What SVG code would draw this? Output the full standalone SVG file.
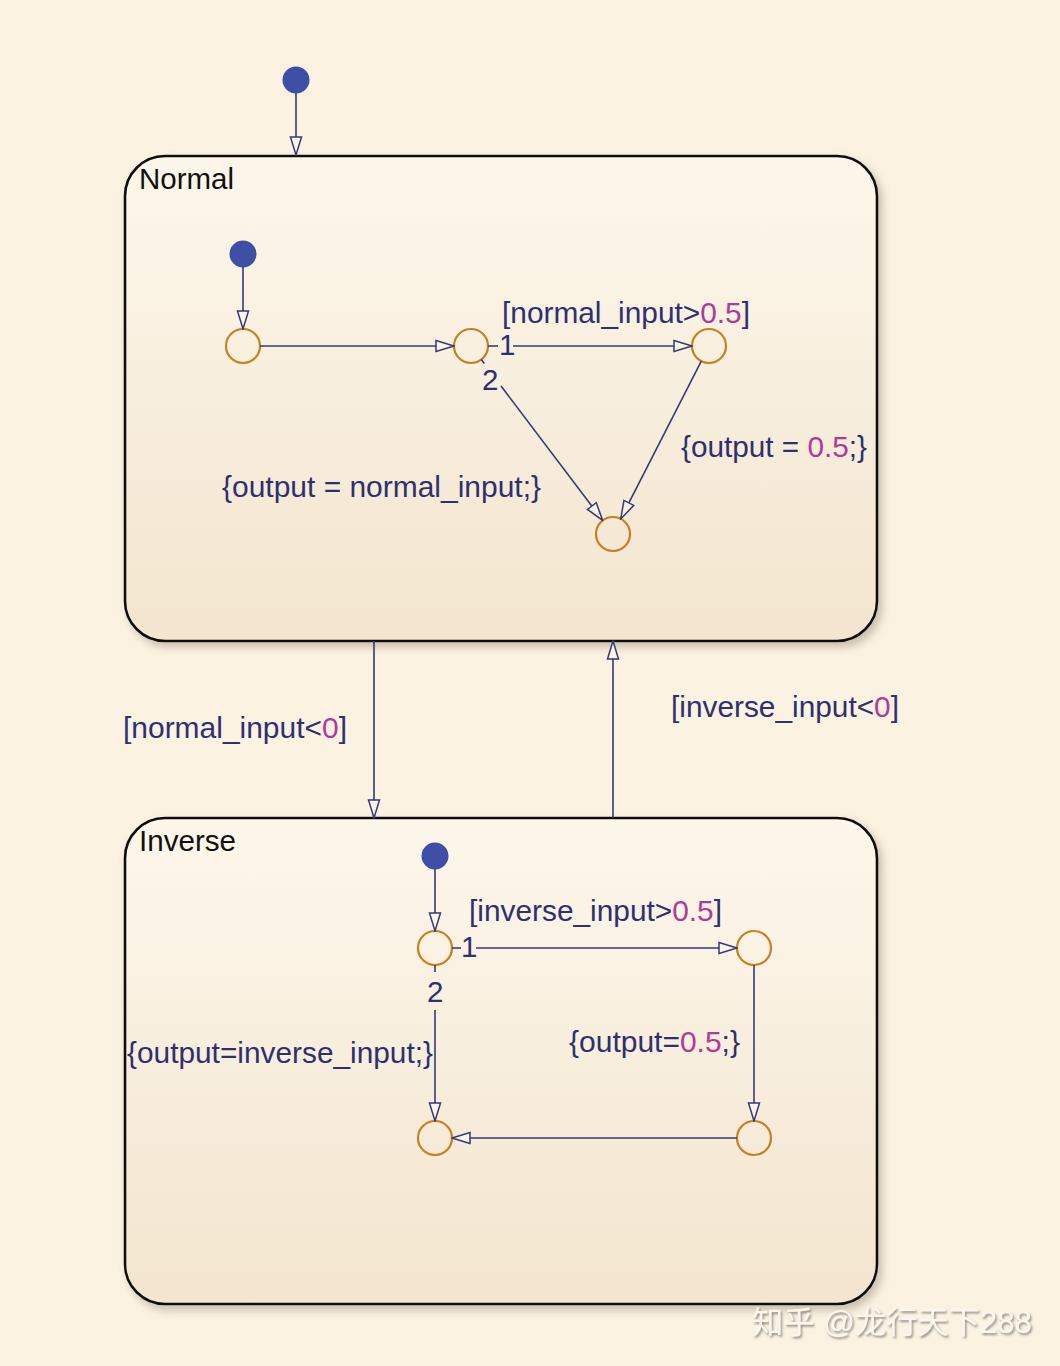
<svg xmlns="http://www.w3.org/2000/svg" width="1060" height="1366" viewBox="0 0 1060 1366">
<defs>
<linearGradient id="stateFill" x1="0" y1="0" x2="0" y2="1">
<stop offset="0" stop-color="#fdf7eb"/>
<stop offset="1" stop-color="#f3e5cf"/>
</linearGradient>
<filter id="shadow" x="-5%" y="-5%" width="112%" height="115%">
<feDropShadow dx="4" dy="5" stdDeviation="4" flood-color="#8a8070" flood-opacity="0.45"/>
</filter>
<filter id="wmShadow" x="-5%" y="-20%" width="115%" height="150%">
<feDropShadow dx="1.5" dy="2" stdDeviation="1.2" flood-color="#6b6458" flood-opacity="0.7"/>
</filter>
<marker id="arr" markerUnits="userSpaceOnUse" markerWidth="20" markerHeight="14" viewBox="0 0 20 14" refX="19" refY="7" orient="auto">
<path d="M1,1.5 L19,7 L1,12.5 Z" fill="#fbf3e4" stroke="#353a78" stroke-width="1.5" stroke-linejoin="miter"/>
</marker>
</defs>
<style>
.state{fill:url(#stateFill);stroke:#111;stroke-width:2.6;filter:url(#shadow)}
.title{font-family:"Liberation Sans",Arial,sans-serif;font-size:29.5px;fill:#111}
.lbl{font-family:"Liberation Sans",Arial,sans-serif;font-size:29.5px;fill:#2e3070}
.num{fill:#b03a9a}
.dot{fill:#3f4fa6}
.junc{fill:none;stroke:#c8801f;stroke-width:2.2}
.conn{fill:none;stroke:#353a78;stroke-width:1.6}
.wm{font-family:"Liberation Sans","Noto Sans CJK SC",sans-serif;font-size:31px;fill:#fbf7ef;filter:url(#wmShadow)}
</style>
<rect x="0" y="0" width="1060" height="1366" fill="#fbf2e2"/>

<g id="Normal">
<rect class="state" x="125" y="156" width="752" height="485" rx="40" ry="40"/>
<text class="title" x="139" y="189" textLength="95" lengthAdjust="spacingAndGlyphs">Normal</text>
</g>
<g id="Inverse">
<rect class="state" x="125" y="818" width="752" height="486" rx="40" ry="40"/>
<text class="title" x="139" y="851" textLength="97" lengthAdjust="spacingAndGlyphs">Inverse</text>
</g>

<g id="default_top"><circle class="dot" cx="296" cy="80" r="13.5"/></g>
<g id="default_normal"><circle class="dot" cx="243" cy="254" r="13.5"/></g>
<g id="default_inverse"><circle class="dot" cx="435" cy="856" r="13.5"/></g>

<g id="j_n1"><circle class="junc" cx="243" cy="346" r="17"/></g>
<g id="j_n2"><circle class="junc" cx="471" cy="346" r="17"/></g>
<g id="j_n3"><circle class="junc" cx="709" cy="346" r="17"/></g>
<g id="j_n4"><circle class="junc" cx="613" cy="534" r="17"/></g>
<g id="j_i1"><circle class="junc" cx="435" cy="948" r="17"/></g>
<g id="j_i2"><circle class="junc" cx="754" cy="948" r="17"/></g>
<g id="j_i3"><circle class="junc" cx="435" cy="1138" r="17"/></g>
<g id="j_i4"><circle class="junc" cx="754" cy="1138" r="17"/></g>

<g id="connectors">
<line class="conn" x1="296" y1="93" x2="296" y2="155" marker-end="url(#arr)"/>
<line class="conn" x1="243" y1="267" x2="243" y2="329" marker-end="url(#arr)"/>
<line class="conn" x1="260" y1="346" x2="454" y2="346" marker-end="url(#arr)"/>
<line class="conn" x1="488" y1="346" x2="498" y2="346"/>
<line class="conn" x1="513" y1="346" x2="692" y2="346" marker-end="url(#arr)"/>
<line class="conn" x1="481.3" y1="359.6" x2="484.3" y2="363.6"/>
<line class="conn" x1="501" y1="386" x2="602.7" y2="520.4" marker-end="url(#arr)"/>
<line class="conn" x1="701.3" y1="361.1" x2="620.7" y2="518.9" marker-end="url(#arr)"/>
<line class="conn" x1="374" y1="641" x2="374" y2="818" marker-end="url(#arr)"/>
<line class="conn" x1="613" y1="818" x2="613" y2="641" marker-end="url(#arr)"/>
<line class="conn" x1="435" y1="869" x2="435" y2="931" marker-end="url(#arr)"/>
<line class="conn" x1="452" y1="948" x2="461" y2="948"/>
<line class="conn" x1="476" y1="948" x2="737" y2="948" marker-end="url(#arr)"/>
<line class="conn" x1="435" y1="965" x2="435" y2="972"/>
<line class="conn" x1="435" y1="1010" x2="435" y2="1121" marker-end="url(#arr)"/>
<line class="conn" x1="754" y1="965" x2="754" y2="1121" marker-end="url(#arr)"/>
<line class="conn" x1="737" y1="1138" x2="452" y2="1138" marker-end="url(#arr)"/>
</g>

<g id="labels">
<text class="lbl" x="502" y="323" textLength="248" lengthAdjust="spacingAndGlyphs">[normal_input&gt;<tspan class="num">0.5</tspan>]</text>
<text class="lbl" x="499" y="355">1</text>
<text class="lbl" x="482" y="390">2</text>
<text class="lbl" x="681" y="457" textLength="186" lengthAdjust="spacingAndGlyphs">{output = <tspan class="num">0.5</tspan>;}</text>
<text class="lbl" x="222" y="497" textLength="319" lengthAdjust="spacingAndGlyphs">{output = normal_input;}</text>
<text class="lbl" x="123" y="738" textLength="224" lengthAdjust="spacingAndGlyphs">[normal_input&lt;<tspan class="num">0</tspan>]</text>
<text class="lbl" x="671" y="717" textLength="228" lengthAdjust="spacingAndGlyphs">[inverse_input&lt;<tspan class="num">0</tspan>]</text>
<text class="lbl" x="469" y="921" textLength="253" lengthAdjust="spacingAndGlyphs">[inverse_input&gt;<tspan class="num">0.5</tspan>]</text>
<text class="lbl" x="461" y="957">1</text>
<text class="lbl" x="427" y="1002">2</text>
<text class="lbl" x="569" y="1052" textLength="171" lengthAdjust="spacingAndGlyphs">{output=<tspan class="num">0.5</tspan>;}</text>
<text class="lbl" x="127" y="1063" textLength="306" lengthAdjust="spacingAndGlyphs">{output=inverse_input;}</text>
</g>

<text class="wm" x="752" y="1333" textLength="280" lengthAdjust="spacingAndGlyphs">知乎 @龙行天下288</text>
</svg>
